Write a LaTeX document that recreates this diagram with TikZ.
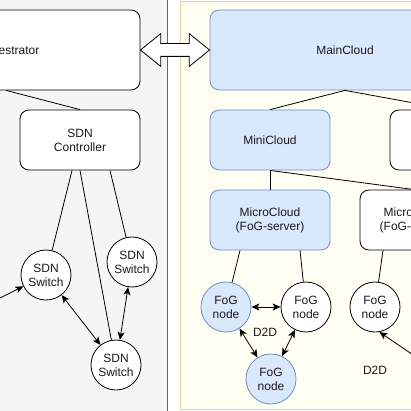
\documentclass[tikz,border=0pt]{standalone}
\usepackage{fontspec}
\setmainfont{Liberation Sans}
\usetikzlibrary{shapes,arrows,arrows.meta,positioning,calc}

\definecolor{cloudfill}{HTML}{DAE8FC}
\definecolor{cloudline}{HTML}{6C8EBF}
\definecolor{sdnback}{HTML}{F5F5F5}
\definecolor{sdnline}{HTML}{666666}
\definecolor{fogback}{HTML}{FFFEF3}
\definecolor{fogline}{HTML}{DDD5A2}
\definecolor{txt}{HTML}{1A1A1A}

\begin{document}
\begin{tikzpicture}[x=1pt, y=-1pt, line width=0.8pt,
>={Stealth[length=8pt,width=7pt,inset=2pt]},
font=\fontsize{12}{14}\selectfont,
box/.style={rectangle, rounded corners=9pt, draw, fill=white, align=center,
  text=txt, minimum width=120pt, minimum height=60pt},
cloud/.style={box, fill=cloudfill, draw=cloudline},
dev/.style={circle, draw, fill=white, align=center, text=txt,
  minimum size=50pt, inner sep=0pt},
fog/.style={dev, fill=cloudfill, draw=cloudline},
node distance=80pt]

\useasboundingbox (0,0) rectangle (411,411);
\clip (0,0) rectangle (411,411);

% the two domains
\draw [fill=sdnback, draw=sdnline] (-10,-10) rectangle (167,420);
\draw [fill=fogback, draw=fogline] (180,1) rectangle (420,409);

% SDN side
\node [box, minimum width=268pt, minimum height=80pt] (orch) at (6,50) {Orchestrator};
\node [box] (ctrl) at (80,140) {SDN\\Controller};
\path (orch.south) edge (ctrl.north);

\node [dev] (sw1) at (46,275) {SDN\\Switch};
\node [dev] (sw2) at (132,262) {SDN\\Switch};
\node [dev] (sw3) at (116,365) {SDN\\Switch};
\path ([xshift=-8pt]ctrl.south) edge (sw1);
\path (ctrl.south) edge (sw3);
\path ([xshift=30pt]ctrl.south) edge (sw2);

\coordinate (swin) at (-6,301);
\path (swin) edge [->] (sw1);
\path (sw1) edge [<->] (sw3);
\path (sw2) edge [<->] (sw3);

% cloud side
\node [cloud, minimum width=270pt, minimum height=80pt] (main) at (345,50) {MainCloud};
\node [double arrow, draw, fill=white, minimum height=69pt, inner sep=0pt,
  inner ysep=6pt, double arrow head extend=10pt, double arrow tip angle=78]
  (link) at ($(orch.east)!0.5!(main.west)$) {};

\node [cloud] (mini) at (270,140) {MiniCloud};
\node [box] (mini2) at (450,140) {};
\path (main.south) edge (mini.north);
\path (main.south) edge (mini2.north);

\node [cloud] (micro) [below of=mini] {MicroCloud\\(FoG-server)};
\node [box, minimum width=108pt] (micro2) at (414,220) {MicroCloud\\(FoG-server)};
\path (mini.south) edge (micro.north);
\path (mini.south) edge (micro2.north);

\node [fog] (fog1) at (226,307) {FoG\\node};
\node [dev] (fog2) [right of=fog1] {FoG\\node};
\node [fog] (fog3) at (271,379) {FoG\\node};
\node [dev] (fog4) at (375,307) {FoG\\node};
\path ([xshift=-30pt]micro.south) edge (fog1);
\path ([xshift=30pt]micro.south) edge (fog2);
\path ([xshift=-31pt]micro2.south) edge (fog4);

\path (fog1) edge [<->] (fog2);
\path (fog1) edge [<->] (fog3);
\path (fog2) edge [<->] (fog3);
\coordinate (fogin) at (425,363);
\path (fogin) edge [->] (fog4.-80);

\node [text=txt] (d2da) at (265,332) {D2D};
\node [text=txt] (d2db) at (375,370) {D2D};

\end{tikzpicture}
\end{document}
